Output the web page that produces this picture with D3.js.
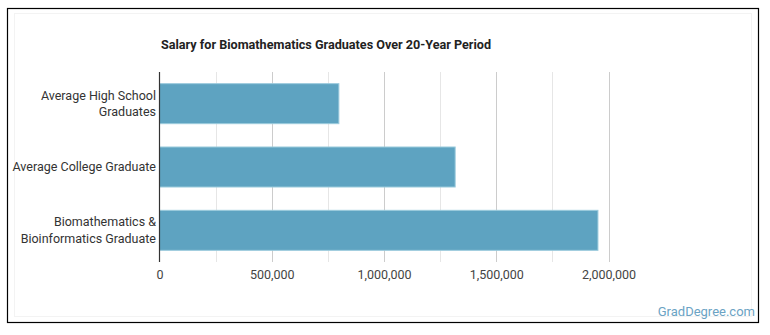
<!DOCTYPE html>
<html>
<head>
<meta charset="utf-8">
<script src="https://cdn.jsdelivr.net/npm/d3@7/dist/d3.min.js"></script>
<style>
  html, body { margin: 0; padding: 0; background: #fff; }
  svg { display: block; font-family: Roboto, "Noto Sans", sans-serif; }
</style>
</head>
<body>
<svg id="chart" width="770" height="335"></svg>
<script>
// Salary totals over a 20-year period
const categories = [
  ["Average High School", "Graduates"],
  ["Average College Graduate"],
  ["Biomathematics &", "Bioinformatics Graduate"]
];
const salaries = [799000, 1317000, 1953000];
const tickValues = [0, 500000, 1000000, 1500000, 2000000];
const gridValues = [0, 250000, 500000, 750000, 1000000, 1250000, 1500000, 1750000, 2000000];
const titleText = "Salary for Biomathematics Graduates Over 20-Year Period";
const sourceText = "GradDegree.com";

const svg = d3.select("#chart");
const plot = { left: 159.5, right: 608.5, top: 72, bottom: 262 };

// outer frame
svg.append("rect")
  .attr("x", 7.5).attr("y", 8.5)
  .attr("width", 751).attr("height", 314)
  .attr("fill", "#fff").attr("stroke", "#000").attr("stroke-width", 1.2);
svg.append("rect")
  .attr("x", 14.5).attr("y", 13.5)
  .attr("width", 737).attr("height", 303)
  .attr("fill", "none").attr("stroke", "#f3f3f3").attr("stroke-width", 1);

const x = d3.scaleLinear().domain([0, 2000000]).range([plot.left, plot.right]);
const y = d3.scaleBand()
  .domain(d3.range(categories.length))
  .range([plot.top, plot.bottom])
  .paddingInner(0.368).paddingOuter(0.184);

// vertical grid lines
svg.append("g").selectAll("line")
  .data(gridValues.slice(1))
  .join("line")
  .attr("x1", d => Math.round(x(d)) + 0.5).attr("x2", d => Math.round(x(d)) + 0.5)
  .attr("y1", plot.top).attr("y2", plot.bottom)
  .attr("stroke", (d, i) => i % 2 === 0 ? "#e6e6e6" : "#cccccc")
  .attr("stroke-width", 1);

// bars
svg.append("g").selectAll("rect")
  .data(salaries)
  .join("rect")
  .attr("x", x(0))
  .attr("y", (d, i) => y(i))
  .attr("width", d => x(d) - x(0))
  .attr("height", y.bandwidth())
  .attr("fill", "#5ea3c1")
  .attr("stroke", "#9ccbdd")
  .attr("stroke-width", 1);

// y axis line
svg.append("line")
  .attr("x1", plot.left).attr("x2", plot.left)
  .attr("y1", plot.top).attr("y2", plot.bottom)
  .attr("stroke", "#333").attr("stroke-width", 1.2);

// x axis tick labels
const xAxis = d3.axisBottom(x)
  .tickValues(tickValues)
  .tickFormat(d3.format(","))
  .tickSize(0)
  .tickPadding(8);
const gx = svg.append("g")
  .attr("transform", `translate(0,${plot.bottom + 0})`)
  .call(xAxis);
gx.select(".domain").remove();
gx.selectAll("text")
  .attr("font-size", 12.5)
  .attr("font-family", "Roboto, sans-serif")
  .attr("fill", "#444");

// category labels
const lab = svg.append("g").selectAll("text")
  .data(categories)
  .join("text")
  .attr("text-anchor", "end")
  .attr("font-size", 12.5)
  .attr("fill", "#333");
lab.each(function (lines, i) {
  const cy = y(i) + y.bandwidth() / 2;
  const lh = 16.5;
  const t = d3.select(this);
  lines.forEach((ln, k) => {
    t.append("tspan")
      .attr("x", 156)
      .attr("y", cy + (k - (lines.length - 1) / 2) * lh)
      .attr("dy", "0.35em")
      .text(ln);
  });
});

// title
svg.append("text")
  .attr("x", 161).attr("y", 49)
  .attr("font-size", 12.5).attr("font-weight", "bold")
  .attr("fill", "#222")
  .attr("textLength", 330).attr("lengthAdjust", "spacingAndGlyphs")
  .text(titleText);

// source mark
svg.append("text")
  .attr("x", 755).attr("y", 316)
  .attr("text-anchor", "end")
  .attr("font-size", 13)
  .attr("fill", "#6ba3c4")
  .text(sourceText);
</script>
</body>
</html>
